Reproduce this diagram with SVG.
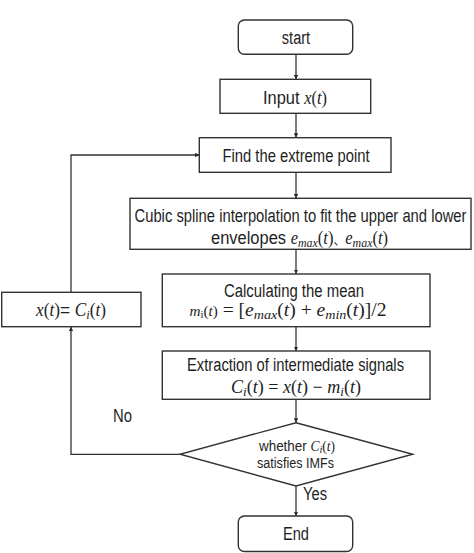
<svg xmlns="http://www.w3.org/2000/svg" width="474" height="553" viewBox="0 0 474 553">
<defs>
<marker id="arr" viewBox="0 0 6 6" refX="6" refY="3" markerWidth="4.5" markerHeight="4.5" markerUnits="userSpaceOnUse" orient="auto">
<path d="M0,0 L6,3 L0,6 z" fill="#2a2a2a"/>
</marker>
</defs>
<style>
.box{fill:#fff;stroke:#333;stroke-width:1.4}
.ln{fill:none;stroke:#333;stroke-width:1.3}
.t{font-family:"Liberation Sans",Arial,sans-serif;font-size:18px;fill:#1e1e1e;text-anchor:middle}
.s{font-size:14px}
.m{font-family:"Liberation Serif","DejaVu Serif",serif;font-style:italic}
.u{font-family:"Liberation Serif","DejaVu Serif",serif;font-style:normal}
.cjk{font-family:"Noto Sans CJK SC",sans-serif;font-style:normal}
</style>
<rect width="474" height="553" fill="#fff"/>
<g id="connectors">
<line class="ln" x1="296" y1="54.3" x2="296" y2="79.3" marker-end="url(#arr)"/>
<line class="ln" x1="296" y1="113.3" x2="296" y2="137.7" marker-end="url(#arr)"/>
<line class="ln" x1="296" y1="172.3" x2="296" y2="198.3" marker-end="url(#arr)"/>
<line class="ln" x1="296" y1="249.3" x2="296" y2="274" marker-end="url(#arr)"/>
<line class="ln" x1="296" y1="326.7" x2="296" y2="351" marker-end="url(#arr)"/>
<line class="ln" x1="296" y1="399.3" x2="296" y2="422.7" marker-end="url(#arr)"/>
<line class="ln" x1="296" y1="486" x2="296" y2="516" marker-end="url(#arr)"/>
<polyline class="ln" points="180,454.3 71,454.3 71,326.7" marker-end="url(#arr)"/>
<polyline class="ln" points="71,292.3 71,155 199.3,155" marker-end="url(#arr)"/>
</g>
<g id="start">
<rect class="box" x="238.3" y="20" width="114.4" height="34.3" rx="6"/>
<text class="t" x="296" y="44.3" textLength="28.3" lengthAdjust="spacingAndGlyphs">start</text>
</g>
<g id="input">
<rect class="box" x="220" y="79.3" width="150.7" height="34"/>
<text class="t" x="295" y="104.3" textLength="64" lengthAdjust="spacingAndGlyphs">Input <tspan class="m">x</tspan><tspan class="u">(</tspan><tspan class="m">t</tspan><tspan class="u">)</tspan></text>
</g>
<g id="find">
<rect class="box" x="199.3" y="137.7" width="191.7" height="34.6"/>
<text class="t" x="296" y="162.3" textLength="147" lengthAdjust="spacingAndGlyphs">Find the extreme point</text>
</g>
<g id="cubic">
<rect class="box" x="130" y="198.3" width="341" height="51"/>
<text class="t" x="300.5" y="221.7" textLength="332" lengthAdjust="spacingAndGlyphs">Cubic spline interpolation to fit the upper and lower</text>
<text class="t" x="299.5" y="243.5" textLength="177" lengthAdjust="spacingAndGlyphs">envelopes <tspan class="m">e</tspan><tspan class="m" font-size="13" dy="3">max</tspan><tspan class="u" dy="-3">(</tspan><tspan class="m">t</tspan><tspan class="u">)</tspan><tspan class="cjk" font-size="13">、</tspan><tspan class="m">e</tspan><tspan class="m" font-size="13" dy="3">max</tspan><tspan class="u" dy="-3">(</tspan><tspan class="m">t</tspan><tspan class="u">)</tspan></text>
</g>
<g id="mean">
<rect class="box" x="162.3" y="274" width="267.7" height="52.7"/>
<text class="t" x="294" y="296.7" textLength="140" lengthAdjust="spacingAndGlyphs">Calculating the mean</text>
<text class="t" x="288" y="316" textLength="197" lengthAdjust="spacingAndGlyphs"><tspan class="m" font-size="14">m</tspan><tspan class="u" font-size="10" dy="2">i</tspan><tspan class="u" font-size="14" dy="-2">(</tspan><tspan class="m" font-size="14">t</tspan><tspan class="u" font-size="14">)</tspan><tspan class="u"> = [</tspan><tspan class="m">e</tspan><tspan class="m" font-size="13" dy="3">max</tspan><tspan class="u" dy="-3">(</tspan><tspan class="m">t</tspan><tspan class="u">) + </tspan><tspan class="m">e</tspan><tspan class="m" font-size="13" dy="3">min</tspan><tspan class="u" dy="-3">(</tspan><tspan class="m">t</tspan><tspan class="u">)]/2</tspan></text>
</g>
<g id="update">
<rect class="box" x="1.7" y="292.3" width="139.3" height="34.4"/>
<text class="t" x="71" y="316" textLength="70" lengthAdjust="spacingAndGlyphs"><tspan class="m">x</tspan><tspan class="u">(</tspan><tspan class="m">t</tspan><tspan class="u">)</tspan>= <tspan class="m">C</tspan><tspan class="m" font-size="13" dy="3">i</tspan><tspan class="u" dy="-3">(</tspan><tspan class="m">t</tspan><tspan class="u">)</tspan></text>
</g>
<g id="extract">
<rect class="box" x="162.3" y="351" width="267.7" height="48.3"/>
<text class="t" x="295.5" y="371" textLength="217" lengthAdjust="spacingAndGlyphs">Extraction of intermediate signals</text>
<text class="t" x="296" y="393" textLength="130" lengthAdjust="spacingAndGlyphs"><tspan class="m">C</tspan><tspan class="m" font-size="13" dy="3">i</tspan><tspan class="u" dy="-3">(</tspan><tspan class="m">t</tspan><tspan class="u">) = </tspan><tspan class="m">x</tspan><tspan class="u">(</tspan><tspan class="m">t</tspan><tspan class="u">) − </tspan><tspan class="m">m</tspan><tspan class="m" font-size="13" dy="3">i</tspan><tspan class="u" dy="-3">(</tspan><tspan class="m">t</tspan><tspan class="u">)</tspan></text>
</g>
<g id="decision">
<polygon class="box" points="296,422.7 412.7,454.3 296,486 180,454.3"/>
<text class="t s" x="297" y="450.7" textLength="76" lengthAdjust="spacingAndGlyphs">whether <tspan class="m">C</tspan><tspan class="m" font-size="11" dy="2.5">i</tspan><tspan class="u" dy="-2.5">(</tspan><tspan class="m">t</tspan><tspan class="u">)</tspan></text>
<text class="t s" x="295.5" y="468" textLength="77" lengthAdjust="spacingAndGlyphs">satisfies IMFs</text>
</g>
<g id="end">
<rect class="box" x="238.3" y="516" width="114.4" height="35.5" rx="6"/>
<text class="t" x="296" y="540" textLength="26" lengthAdjust="spacingAndGlyphs">End</text>
</g>
<g id="labels">
<text class="t" x="122.5" y="422" textLength="19" lengthAdjust="spacingAndGlyphs">No</text>
<text class="t" x="315" y="500" textLength="24" lengthAdjust="spacingAndGlyphs">Yes</text>
</g>
</svg>
